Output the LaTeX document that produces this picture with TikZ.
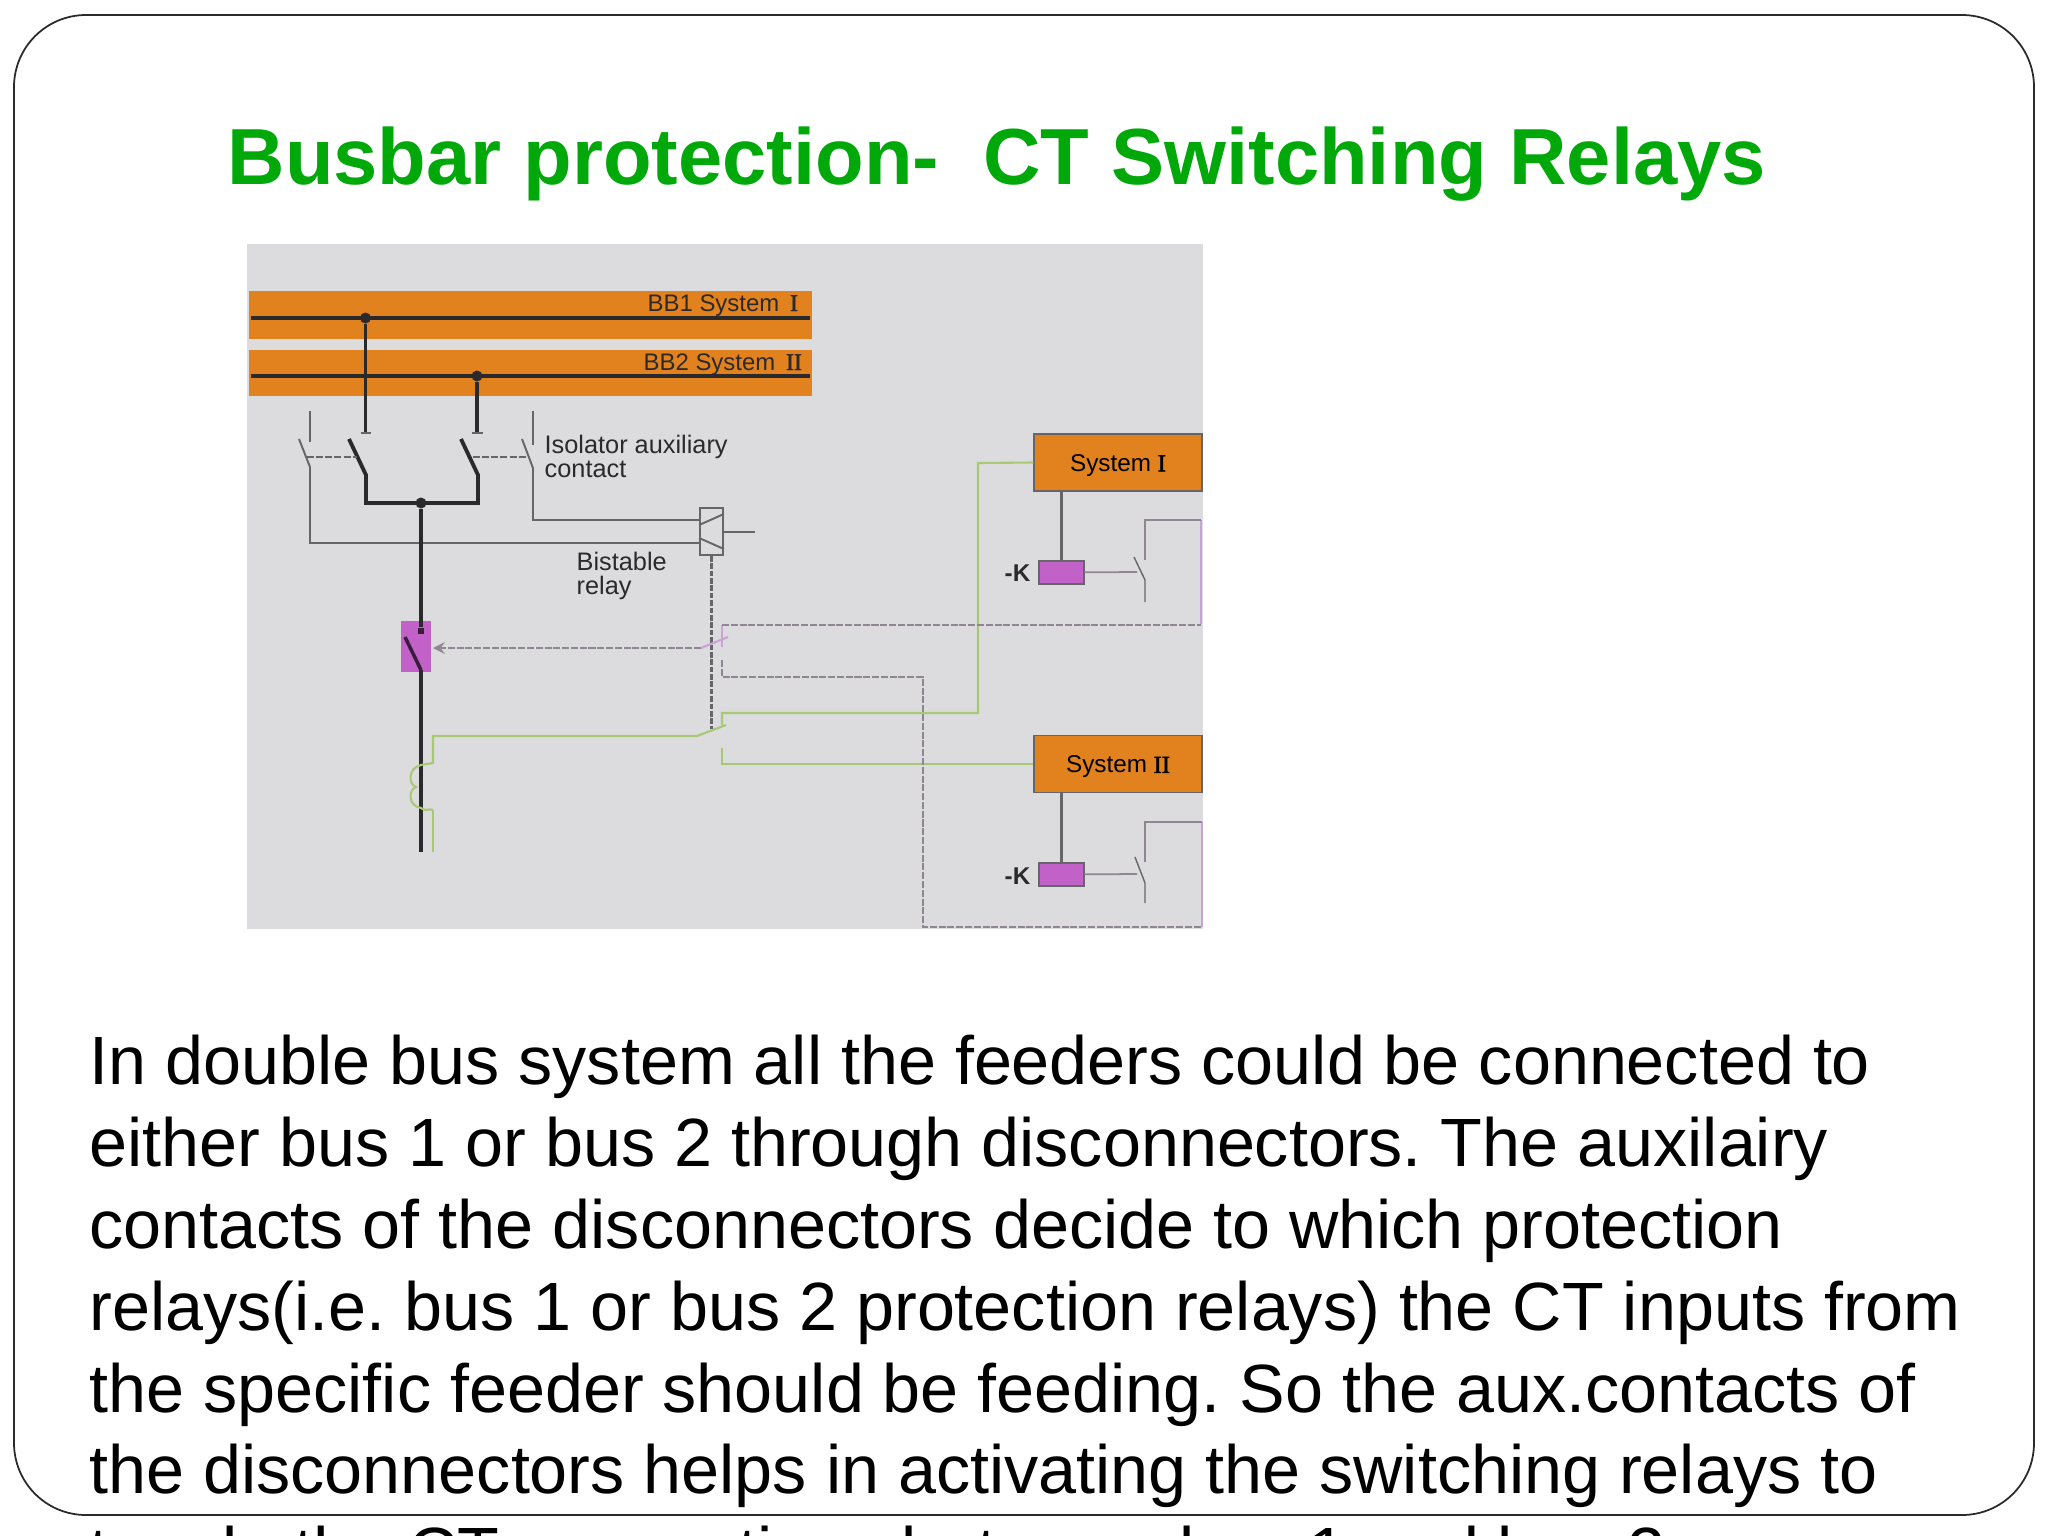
\documentclass[tikz,border=0pt]{standalone}
\usepackage{fontspec}
\setmainfont{Liberation Sans}
\newfontfamily\romannum{Liberation Serif}[FakeBold=2]
\definecolor{titlegreen}{HTML}{00A80A}
\definecolor{panelgray}{HTML}{DCDCDE}
\definecolor{busorange}{HTML}{E2821F}
\definecolor{coilpurple}{HTML}{C262C8}
\definecolor{ctgreen}{HTML}{A9C873}
\definecolor{triplilac}{HTML}{C9A3D2}
\definecolor{tripgray}{HTML}{8F8694}
\definecolor{wiregray}{HTML}{66666A}
\definecolor{darkline}{HTML}{2A2A2C}
\tikzset{
	power/.style={darkline,line width=1.1pt},
	wire/.style={wiregray,line width=0.55pt},
	linkdash/.style={wiregray,line width=0.55pt,dash pattern=on 2pt off 0.6pt},
	ctline/.style={ctgreen,line width=0.6pt},
	tripline/.style={tripgray,line width=0.5pt,dash pattern=on 2pt off 0.5pt},
	tripend/.style={triplilac,line width=0.6pt},
	busbar/.style={fill=busorange,draw=none,inner sep=0pt,anchor=north west,minimum width=5.63cm},
	sysbox/.style={fill=busorange,draw=wiregray,line width=0.4pt,inner sep=0pt,minimum width=1.68cm,minimum height=0.57cm,font=\fontsize{6.9}{8}\selectfont},
	kbox/.style={fill=coilpurple,draw=wiregray,line width=0.4pt,inner sep=0pt,minimum width=0.45cm,minimum height=0.23cm},
	small/.style={inner sep=0pt,anchor=base west,align=left,font=\fontsize{7.2}{8}\selectfont,text=darkline},
	bodyline/.style={inner sep=0pt,anchor=base west,font=\fontsize{19.42}{23}\selectfont\frenchspacing},
	joint/.style={circle,fill=darkline,inner sep=0pt,minimum size=0.11cm},
}
\begin{document}
\begin{tikzpicture}[x=0.01cm,y=-0.01cm]
			\clip (0,0) rectangle (2048,1536);
			\fill[white] (0,0) rectangle (2048,1536);
			\draw[darkline,line width=0.5pt,rounded corners=0.72cm] (14,15) rectangle (2034,1515);

			\node[anchor=base west,inner sep=0pt,text=titlegreen,font=\fontsize{22.62}{26}\selectfont\bfseries] (title) at (227,184) {Busbar protection-\ \ CT Switching Relays};

			\fill[panelgray] (247,244) rectangle (1203,929);

			\node[busbar,minimum height=0.48cm] (busone) at (248,290) {};
			\node[busbar,minimum height=0.46cm] (bustwo) at (248,349) {};
			\draw[darkline,line width=1pt] (251,318) -- (810,318);
			\draw[darkline,line width=1pt] (251,376) -- (810,376);
			\node[small,font=\fontsize{6.8}{8}\selectfont] (labelone) at (647,311) {BB1 System\hspace{0.45em}{\romannum I}};
			\node[small,font=\fontsize{6.8}{8}\selectfont] (labeltwo) at (643,370) {BB2 System\hspace{0.45em}{\romannum II}};

			\node[joint] (tapone) at (365.5,318) {};
			\node[joint] (taptwo) at (477,376) {};
			\node[joint] (feeder) at (421,503) {};
			\coordinate (fixone) at (365.5,433);
			\coordinate (fixtwo) at (477,433);
			\draw[power] (tapone) -- (fixone);
			\draw[power] (taptwo) -- (fixtwo);
			\draw[wire] (360.5,433) -- (371,433);
			\draw[wire] (472,433) -- (483,433);
			\draw[power] (349,439) -- (366,475) -- (366,503) -- (478,503) -- (478,475) -- (461,439);

			\draw[linkdash] (307,457) -- (357,457);
			\draw[linkdash] (473,457) -- (528,457);

			\node[draw=wiregray,line width=0.5pt,fill=panelgray,minimum width=0.23cm,minimum height=0.47cm,inner sep=0pt] (relay) at (711.5,531.5) {};
			\draw[wire] (relay.west |- 0,525) -- (relay.east |- 0,514);
			\draw[wire] (relay.west |- 0,538) -- (relay.east |- 0,549);
			\draw[wire] (relay.east |- 0,532) -- (755,532);

			\draw[wire] (310,411) -- (310,442);
			\draw[wire] (299,439) -- (310,467) -- (310,543) -- (relay.west |- 0,543);
			\draw[wire] (533,411) -- (533,445);
			\draw[wire] (522,439) -- (533,468) -- (533,520) -- (relay.west |- 0,520);

			\node[small] (isolator) at (544,453) {Isolator auxiliary};
			\node[small] (contact) at (544,477) {contact};
			\node[small] (bistable) at (576,570) {Bistable};
			\node[small] (relaytext) at (576,594) {relay};

			\node[fill=coilpurple,inner sep=0pt,minimum width=0.30cm,minimum height=0.51cm] (ctswitch) at (416,646.5) {};
			\node[fill=black!70!coilpurple,inner sep=0pt,minimum size=0.06cm] (switchtop) at (421,631) {};
			\coordinate (feederend) at (421,852);
			\draw[power] (feeder) -- (switchtop);
			\draw[power] (421,670) -- (feederend);
			\draw[black!70!coilpurple,line width=1pt] (405,637) -- (421,670);

			\draw[linkdash,line width=0.7pt,dash pattern=on 1.6pt off 0.5pt] (relay.south) -- (711.5,729);

			\node[sysbox] (sysone) at (1118,462.5) {\raisebox{-2.5pt}[0pt][0pt]{System {\romannum I}}};
			\node[sysbox] (systwo) at (1118,764) {\raisebox{-2.5pt}[0pt][0pt]{System {\romannum II}}};
			\node[kbox] (kone) at (1061.5,572.5) {};
			\node[kbox] (ktwo) at (1061.5,874.5) {};
			\node[small,font=\fontsize{6.9}{8}\selectfont\bfseries] (kminusone) at (1004,581) {-K};
			\node[small,font=\fontsize{6.9}{8}\selectfont\bfseries] (kminustwo) at (1004,884) {-K};
			\draw[wiregray,line width=0.8pt] (sysone.south -| kone) -- (kone);
			\draw[wiregray,line width=0.8pt] (systwo.south -| ktwo) -- (ktwo);

			\draw[ctline] (433,810) .. controls (428,808) and (427,812) .. (421,808) .. controls (408,806) and (408,790) .. (416,787) .. controls (408,784) and (408,768) .. (421,765) -- (433,763) -- (433,736) -- (697,736) -- (726,725);
			\draw[ctline] (433,810) -- (433,852);
			\draw[ctline] (722,725) -- (722,713) -- (978,713) -- (978,463) -- (sysone.west);
			\draw[ctline] (722,748) -- (722,764) -- (systwo.west);

			\draw[tripline,-stealth] (701,648) -- (433,648);
			\draw[tripend] (701,648) -- (728,637);
			\draw[tripend] (722,625) -- (722,647);
			\draw[tripline] (722,625) -- (1201,625);
			\draw[tripline] (722,660) -- (722,677) -- (923,677) -- (923,927) -- (1202,927);

			\draw[tripend] (1201,624) -- (1201,520);
			\draw[tripgray,line width=0.5pt] (1201,520) -- (1145,520) -- (1145,560);
			\draw[wire,line width=0.4pt] (1134,557) -- (1145,580) -- (1145,602);
			\draw[tripgray,line width=0.5pt] (kone) -- (1137,572);

			\draw[tripend] (1202,927) -- (1202,822);
			\draw[tripgray,line width=0.5pt] (1202,822) -- (1145,822) -- (1145,862);
			\draw[wire,line width=0.4pt] (1135,857) -- (1145,883) -- (1145,903);
			\draw[tripgray,line width=0.5pt] (ktwo) -- (1137,874);

			\node[bodyline] (lineone) at (89,1084.5) {In double bus system all the feeders could be connected to};
			\node[bodyline] (linetwo) at (89,1166) {either bus 1 or bus 2 through disconnectors. The auxilairy};
			\node[bodyline] (linethree) at (89,1248) {contacts of the disconnectors decide to which protection};
			\node[bodyline] (linefour) at (89,1330) {relays(i.e. bus 1 or bus 2 protection relays) the CT inputs from};
			\node[bodyline] (linefive) at (89,1412) {the specific feeder should be feeding. So the aux.contacts of};
			\node[bodyline] (linesix) at (89,1493.7) {the disconnectors helps in activating the switching relays to};
			\node[bodyline] (lineseven) at (89,1575.4) {toggle the CT connections between bus 1 and bus 2};
\end{tikzpicture}
\end{document}
